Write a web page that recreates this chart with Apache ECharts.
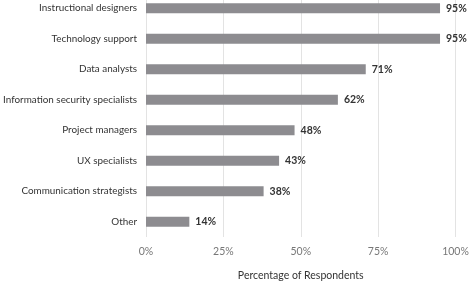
<!DOCTYPE html>
<html><head><meta charset="utf-8">
<script src="https://cdn.jsdelivr.net/npm/echarts@6/dist/echarts.min.js"></script>
<style>html,body{margin:0;padding:0;background:#fff}#c{width:474px;height:284px}</style>
</head><body><div id="c"></div>
<script>
const categories = ["Instructional designers","Technology support","Data analysts","Information security specialists","Project managers","UX specialists","Communication strategists","Other"];
const values = [95,95,71,62,48,43,38,14];
const xTicks = [0,25,50,75,100];
const xTitle = "Percentage of Respondents";
const font = "Lato, sans-serif";
const chart = echarts.init(document.getElementById('c'), null, {renderer:'canvas'});
chart.setOption({
  animation:false,
  grid:{left:146,right:18.5,top:-7,bottom:47,outerBoundsMode:'none',containLabel:false},
  xAxis:{type:'value',min:0,max:100,interval:25,
    name:xTitle,nameLocation:'middle',nameGap:33,
    nameTextStyle:{color:'#333',fontSize:10.5,fontFamily:font},
    axisLine:{show:false},axisTick:{show:false},
    axisLabel:{color:'#777',fontSize:10.5,fontFamily:font,margin:9,formatter:v=>v+'%'},
    splitLine:{lineStyle:{color:'#e3e3e3',width:1}}},
  yAxis:{type:'category',data:categories,inverse:true,
    axisLine:{show:false},axisTick:{show:false},
    axisLabel:{color:'#333',fontSize:9.9,fontFamily:font,margin:9}},
  series:[{type:'bar',data:values,barWidth:10,
    itemStyle:{color:'#8d8c90'},
    label:{show:true,position:'right',distance:6,color:'#333',fontSize:10.5,fontWeight:'bold',fontFamily:font,formatter:p=>p.value+'%'}}]
});
</script></body></html>
